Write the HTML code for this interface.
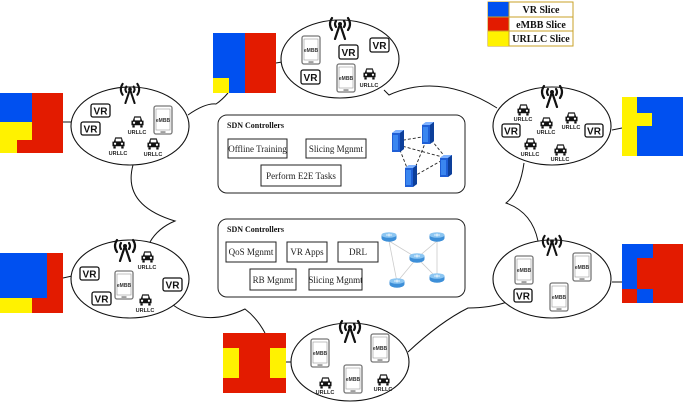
<!DOCTYPE html>
<html><head><meta charset="utf-8"><style>
html,body{margin:0;padding:0;background:#fff;width:685px;height:404px;overflow:hidden}
svg{display:block}
.t{font-family:"Liberation Serif",serif;font-size:9px;fill:#222}
.b{font-family:"Liberation Serif",serif;font-size:8px;font-weight:bold;fill:#111}
.vr{font-family:"Liberation Sans",sans-serif;font-size:10px;font-weight:bold;fill:#111}
.u{font-family:"Liberation Sans",sans-serif;font-size:5.5px;font-weight:bold;fill:#222}
.e{font-family:"Liberation Sans",sans-serif;font-size:5px;font-weight:bold;fill:#333}
.lg{font-family:"Liberation Serif",serif;font-size:10px;font-weight:bold;fill:#111}
</style></head><body>
<svg width="685" height="404" viewBox="0 0 685 404" xmlns="http://www.w3.org/2000/svg">
<defs>
<symbol id="ph" viewBox="0 0 20 30"><rect x="1" y="1" width="18" height="28" rx="2" fill="#fff" stroke="#777" stroke-width="1.3"/><rect x="3" y="4" width="14" height="21" fill="#fff" stroke="#999" stroke-width="0.6"/><rect x="7.5" y="26.3" width="5" height="1.5" fill="#888"/></symbol>
<symbol id="car" viewBox="0 0 16 14"><path d="M3 6 L4.5 1.5 H11.5 L13 6 H14.5 V11 H1.5 V6 Z" fill="#111"/><rect x="5" y="2.8" width="6" height="3" fill="#fff"/><circle cx="4.3" cy="8.3" r="1.2" fill="#fff"/><circle cx="11.7" cy="8.3" r="1.2" fill="#fff"/><rect x="2.5" y="11" width="2.5" height="2.5" fill="#111"/><rect x="11" y="11" width="2.5" height="2.5" fill="#111"/></symbol>
<symbol id="ant" viewBox="0 0 24 24"><g fill="none" stroke="#111" stroke-width="2.2" stroke-linecap="round"><path d="M4 2 Q0 8 4 14"/><path d="M20 2 Q24 8 20 14"/><path d="M8 5 Q6 8 8 11"/><path d="M16 5 Q18 8 16 11"/><path d="M12 8 L7 23 M12 8 L17 23"/></g><circle cx="12" cy="8" r="2" fill="#111"/></symbol>
<symbol id="srv" viewBox="0 0 12 22"><path d="M0 3 L4 0 H12 V19 L8 22 H0 Z" fill="#1f5fd6"/><path d="M4 0 H12 L8 3 H0 Z" fill="#7fb2ff"/><path d="M8 3 L12 0 V19 L8 22 Z" fill="#0d3f9a"/><rect x="1" y="5" width="5" height="15" fill="#3a86f0"/></symbol>
<symbol id="rt" viewBox="0 0 16 10"><ellipse cx="8" cy="6" rx="7.5" ry="3.8" fill="#3d8fd8"/><rect x="0.5" y="3" width="15" height="3" fill="#3d8fd8"/><ellipse cx="8" cy="3" rx="7.5" ry="2.8" fill="#8cc6f2"/><path d="M5 3 H11 M8 1.5 V4.5" stroke="#fff" stroke-width="0.8"/></symbol>
</defs>

<!-- cloud outline -->
<g fill="none" stroke="#111" stroke-width="1">
<path d="M188 115 Q205 103 216 104 Q222 100 228 93"/>
<path d="M276 63 L282 62"/>
<path d="M384 90 L389 95 Q440 72 497 108"/>
<path d="M524 163 Q520 192 506 203 Q532 212 538 241"/>
<path d="M507 302 Q490 308 468 308 Q440 322 408 352"/>
<path d="M612 130 L622 128"/>
<path d="M612 282 L622 282"/>
<path d="M133 165 Q122 205 175 221 Q158 228 150 242"/>
<path d="M63 278 L72 276"/>
<path d="M63 122 L72 122"/>
<path d="M173 305 Q205 328 245 309 Q257 318 265 333"/>
<path d="M286 362 L292 362"/>
</g>

<!-- ellipses -->
<g fill="#fff" stroke="#111" stroke-width="1.1">
<ellipse cx="340" cy="59" rx="59" ry="39"/>
<ellipse cx="130" cy="126" rx="59" ry="39"/>
<ellipse cx="130" cy="279" rx="59" ry="39"/>
<ellipse cx="552" cy="126" rx="59" ry="39"/>
<ellipse cx="552" cy="279" rx="59" ry="39"/>
<ellipse cx="350" cy="362" rx="59" ry="39"/>
</g>

<!-- slice squares -->
<g stroke="none">
<rect x="213" y="33" width="63" height="60" fill="#e31b00"/><rect x="213" y="33" width="32" height="60" fill="#0050f0"/><rect x="213" y="78" width="16" height="15" fill="#fff200"/>
<rect x="0" y="93" width="63" height="60" fill="#e31b00"/><rect x="0" y="93" width="32" height="29" fill="#0050f0"/><rect x="0" y="122" width="32" height="18" fill="#fff200"/><rect x="0" y="140" width="17" height="13" fill="#fff200"/>
<rect x="0" y="253" width="63" height="60" fill="#e31b00"/><rect x="0" y="253" width="47" height="45" fill="#0050f0"/><rect x="0" y="298" width="32" height="15" fill="#fff200"/>
<rect x="622" y="97" width="61" height="59" fill="#0050f0"/><rect x="622" y="97" width="15" height="59" fill="#fff200"/><rect x="637" y="113" width="15" height="13" fill="#fff200"/>
<rect x="622" y="244" width="61" height="59" fill="#e31b00"/><rect x="622" y="244" width="31" height="14" fill="#0050f0"/><rect x="622" y="258" width="15" height="31" fill="#0050f0"/><rect x="637" y="289" width="16" height="14" fill="#0050f0"/>
<rect x="223" y="333" width="63" height="60" fill="#e31b00"/><rect x="223" y="348" width="16" height="30" fill="#fff200"/><rect x="270" y="348" width="16" height="30" fill="#fff200"/>
</g>

<!-- legend -->
<g>
<rect x="488" y="2" width="85" height="44" fill="#fff" stroke="#c9a227" stroke-width="1"/>
<rect x="488" y="2" width="21" height="15" fill="#0050f0"/><rect x="488" y="17" width="21" height="14" fill="#e31b00"/><rect x="488" y="31" width="21" height="15" fill="#fff200"/>
<line x1="488" y1="17" x2="573" y2="17" stroke="#c9a227"/><line x1="488" y1="31" x2="573" y2="31" stroke="#c9a227"/><line x1="509" y1="2" x2="509" y2="46" stroke="#c9a227"/>
<text class="lg" x="541" y="13" text-anchor="middle">VR Slice</text>
<text class="lg" x="541" y="28" text-anchor="middle">eMBB Slice</text>
<text class="lg" x="541" y="42" text-anchor="middle">URLLC Slice</text>
</g>

<!-- SDN boxes -->
<g fill="#fff" stroke="#222" stroke-width="1">
<rect x="218" y="115" width="247" height="78" rx="9"/>
<rect x="218" y="219" width="247" height="78" rx="9"/>
<rect x="228" y="139" width="59" height="19"/><rect x="306" y="139" width="60" height="19"/><rect x="261" y="165" width="80" height="21"/>
<rect x="226" y="242" width="50" height="20"/><rect x="287" y="242" width="40" height="20"/><rect x="338" y="242" width="40" height="20"/><rect x="250" y="269" width="46" height="21"/><rect x="309" y="269" width="53" height="21"/>
</g>
<text class="b" x="227" y="128">SDN Controllers</text>
<text class="b" x="227" y="232">SDN Controllers</text>
<text class="t" x="257.5" y="152" text-anchor="middle">Offline Training</text>
<text class="t" x="336" y="152" text-anchor="middle">Slicing Mgnmt</text>
<text class="t" x="301" y="179" text-anchor="middle">Perform E2E Tasks</text>
<text class="t" x="251" y="255" text-anchor="middle">QoS Mgnmt</text>
<text class="t" x="307" y="255" text-anchor="middle">VR Apps</text>
<text class="t" x="358" y="255" text-anchor="middle">DRL</text>
<text class="t" x="273" y="283" text-anchor="middle">RB Mgnmt</text>
<text class="t" x="335.5" y="283" text-anchor="middle">Slicing Mgnmt</text>

<!-- servers -->
<g stroke="#222" stroke-width="0.9" stroke-dasharray="3,2" fill="none">
<path d="M398 141 L428 136 M398 145 L446 158 M398 145 L411 178 M428 136 L446 158 M428 136 L411 178 M446 158 L411 178"/>
</g>
<use href="#srv" x="392" y="130" width="12" height="22"/>
<use href="#srv" x="422" y="122" width="12" height="22"/>
<use href="#srv" x="440" y="155" width="12" height="22"/>
<use href="#srv" x="405" y="165" width="12" height="22"/>
<!-- routers -->
<g stroke="#ccc" stroke-width="0.8" fill="none"><path d="M389 241 L417 258 L437 241 M389 241 L397 282 L417 258 L437 278 L437 241"/></g>
<use href="#rt" x="381" y="232" width="16" height="10"/>
<use href="#rt" x="429" y="232" width="16" height="10"/>
<use href="#rt" x="409" y="253" width="16" height="10"/>
<use href="#rt" x="389" y="278" width="16" height="10"/>
<use href="#rt" x="429" y="273" width="16" height="10"/>

<!-- antennas -->
<use href="#ant" x="328" y="16" width="24" height="24"/>
<use href="#ant" x="118" y="82" width="24" height="22"/>
<use href="#ant" x="113" y="238" width="24" height="24"/>
<use href="#ant" x="540" y="84" width="24" height="24"/>
<use href="#ant" x="540" y="234" width="24" height="22"/>
<use href="#ant" x="338" y="319" width="24" height="24"/>

<!-- VR boxes -->
<g fill="#fff" stroke="#111" stroke-width="1.3">
<rect x="339" y="45" width="19" height="14" rx="2"/><rect x="370" y="38" width="19" height="14" rx="2"/><rect x="301" y="70" width="19" height="14" rx="2"/>
<rect x="91" y="104" width="19" height="13" rx="2"/><rect x="81" y="122" width="19" height="13" rx="2"/>
<rect x="80" y="267" width="19" height="13" rx="2"/><rect x="163" y="278" width="19" height="13" rx="2"/><rect x="92" y="292" width="19" height="13" rx="2"/>
<rect x="502" y="124" width="18" height="13" rx="2"/><rect x="585" y="124" width="18" height="13" rx="2"/>
<rect x="514" y="289" width="18" height="13" rx="2"/>
</g>
<g class="vr" text-anchor="middle">
<text x="348.5" y="56">VR</text><text x="379.5" y="49">VR</text><text x="310.5" y="81">VR</text>
<text x="100.5" y="114.5">VR</text><text x="90.5" y="132.5">VR</text>
<text x="89.5" y="277.5">VR</text><text x="172.5" y="288.5">VR</text><text x="101.5" y="302.5">VR</text>
<text x="511" y="134.5">VR</text><text x="594" y="134.5">VR</text><text x="523" y="299.5">VR</text>
</g>

<!-- phones -->
<use href="#ph" x="301" y="35" width="20" height="30"/><use href="#ph" x="336" y="63" width="20" height="30"/>
<use href="#ph" x="153" y="105" width="20" height="30"/>
<use href="#ph" x="114" y="270" width="20" height="30"/>
<use href="#ph" x="514" y="255" width="20" height="30"/><use href="#ph" x="572" y="252" width="20" height="30"/><use href="#ph" x="549" y="282" width="20" height="30"/>
<use href="#ph" x="310" y="338" width="20" height="30"/><use href="#ph" x="370" y="333" width="20" height="30"/><use href="#ph" x="343" y="364" width="20" height="30"/>
<g class="e" text-anchor="middle">
<text x="311" y="52">eMBB</text><text x="346" y="80">eMBB</text><text x="163" y="122">eMBB</text><text x="124" y="287">eMBB</text>
<text x="524" y="272">eMBB</text><text x="582" y="269">eMBB</text><text x="559" y="299">eMBB</text>
<text x="320" y="355">eMBB</text><text x="380" y="350">eMBB</text><text x="353" y="381">eMBB</text>
</g>

<!-- cars -->
<use href="#car" x="362" y="67" width="15" height="13"/>
<use href="#car" x="130" y="115" width="15" height="13"/><use href="#car" x="111" y="136" width="15" height="13"/><use href="#car" x="146" y="137" width="15" height="13"/>
<use href="#car" x="140" y="250" width="15" height="13"/><use href="#car" x="138" y="293" width="15" height="13"/>
<use href="#car" x="516" y="103" width="15" height="13"/><use href="#car" x="539" y="116" width="15" height="13"/><use href="#car" x="564" y="111" width="15" height="13"/><use href="#car" x="523" y="137" width="15" height="13"/><use href="#car" x="553" y="143" width="15" height="13"/>
<use href="#car" x="318" y="376" width="15" height="13"/><use href="#car" x="376" y="373" width="15" height="13"/>
<g class="u" text-anchor="middle">
<text x="369" y="87">URLLC</text>
<text x="137" y="134">URLLC</text><text x="118" y="155">URLLC</text><text x="153" y="156">URLLC</text>
<text x="147" y="269">URLLC</text><text x="145" y="312">URLLC</text>
<text x="523" y="121">URLLC</text><text x="546" y="134">URLLC</text><text x="571" y="129">URLLC</text><text x="530" y="156">URLLC</text><text x="560" y="161">URLLC</text>
<text x="325" y="394">URLLC</text><text x="383" y="391">URLLC</text>
</g>
</svg>
</body></html>
